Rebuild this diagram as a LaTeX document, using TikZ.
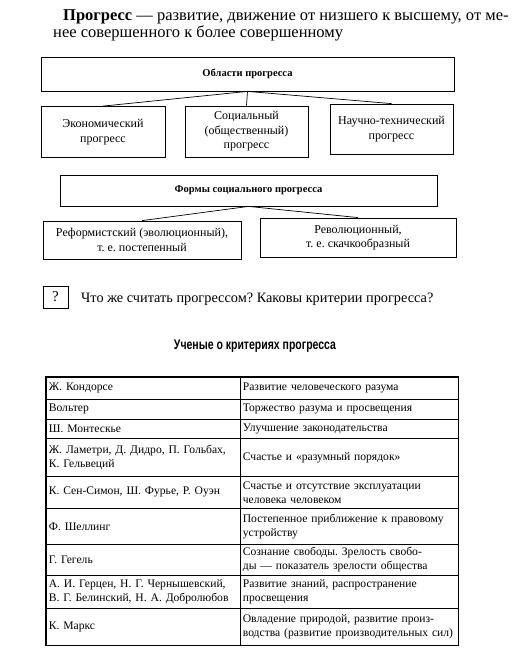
\documentclass[tikz,border=0pt]{standalone}
\usepackage{fontspec}
\setmainfont{Liberation Serif}
\newfontfamily\headfont[FakeStretch=0.75]{Liberation Sans}
\usetikzlibrary{positioning}
\frenchspacing
\tikzset{
  headbox/.style = {rectangle, draw, line width=0.8pt, inner sep=2pt,
                    font=\fontsize{10.5}{13}\selectfont\bfseries},
  kindbox/.style = {rectangle, draw, line width=0.8pt, inner sep=2pt, align=center,
                    font=\fontsize{12}{14.5}\selectfont},
  link/.style    = {line width=0.7pt},
  cell/.style    = {rectangle, draw, line width=0.7pt, anchor=north west, inner xsep=2.5pt,
                    inner ysep=0pt, align=left, font=\fontsize{11.6}{14}\selectfont},
  lcell/.style   = {cell, text width=189pt},
  rcell/.style   = {cell, text width=213pt},
}
\begin{document}
\begin{tikzpicture}[x=1pt, y=-1pt]
  \useasboundingbox (0,0) rectangle (525,653);

  % definition
  \node[anchor=base west, inner sep=0pt, font=\fontsize{16.5}{19}\selectfont] (def1) at (63,20)
    {\textbf{Прогресс} — развитие, движение от низшего к высшему, от ме-};
  \node[anchor=base west, inner sep=0pt, font=\fontsize{16.5}{19}\selectfont] (def2) at (53,37)
    {нее совершенного к более совершенному};

  % areas of progress
  \node[headbox, minimum width=413pt, minimum height=34pt] (areas) at (247.5,74) {Области прогресса};
  \node[kindbox, minimum width=124pt, minimum height=51pt] (econ) at (103,132)
    {Экономический\\прогресс};
  \node[kindbox, minimum width=123pt, minimum height=51pt] (soc) at (246.5,131.5)
    {Социальный\\(общественный)\\прогресс};
  \node[kindbox, minimum width=123pt, minimum height=50pt] (tech) at (391.5,129)
    {Научно-технический\\прогресс};
  \draw[link] (areas.south) -- (econ.north);
  \draw[link] (areas.south) -- (soc.north);
  \draw[link] (areas.south) -- (tech.north);

  % forms of social progress
  \node[headbox, minimum width=377pt, minimum height=31pt] (forms) at (248.5,190.5)
    {Формы социального прогресса};
  \node[kindbox, minimum width=198pt, minimum height=38pt] (reform) at (142,240)
    {Реформистский (эволюционный),\\т. е. постепенный};
  \node[kindbox, minimum width=196pt, minimum height=39pt] (revol) at (358,237.5)
    {Революционный,\\т. е. скачкообразный};
  \draw[link] (forms.south) -- (reform.north);
  \draw[link] (forms.south) -- (revol.north);

  % question
  \node[rectangle, draw, line width=0.8pt, minimum width=25pt, minimum height=22pt,
        font=\fontsize{15}{17}\selectfont] (qmark) at (55.5,297) {?};
  \node[anchor=base west, inner sep=0pt, font=\fontsize{14.3}{17}\selectfont] (qtext) at (81,302)
    {Что же считать прогрессом? Каковы критерии прогресса?};

  % scholars table
  \node[font=\headfont\fontsize{14}{17}\selectfont\bfseries] (thead) at (255,346)
    {Ученые о критериях прогресса};

  \node[lcell, minimum height=22pt] (n1) at (46,377) {Ж. Кондорсе};
  \node[rcell, minimum height=22pt] (c1) at (240,377) {Развитие человеческого разума};
  \node[lcell, minimum height=20pt] (n2) at (46,399) {Вольтер};
  \node[rcell, minimum height=20pt] (c2) at (240,399) {Торжество разума и просвещения};
  \node[lcell, minimum height=19pt] (n3) at (46,419) {Ш. Монтескье};
  \node[rcell, minimum height=19pt] (c3) at (240,419) {Улучшение законодательства};
  \node[lcell, minimum height=38pt] (n4) at (46,438) {Ж. Ламетри, Д. Дидро, П. Гольбах,\\К. Гельвеций};
  \node[rcell, minimum height=38pt] (c4) at (240,438) {Счастье и «разумный порядок»};
  \node[lcell, minimum height=32pt] (n5) at (46,476) {К. Сен-Симон, Ш. Фурье, Р. Оуэн};
  \node[rcell, minimum height=32pt] (c5) at (240,476) {Счастье и отсутствие эксплуатации\\человека человеком};
  \node[lcell, minimum height=36pt] (n6) at (46,508) {Ф. Шеллинг};
  \node[rcell, minimum height=36pt] (c6) at (240,508) {Постепенное приближение к правовому\\устройству};
  \node[lcell, minimum height=31pt] (n7) at (46,544) {Г. Гегель};
  \node[rcell, minimum height=31pt] (c7) at (240,544) {Сознание свободы. Зрелость свобо-\\ды — показатель зрелости общества};
  \node[lcell, minimum height=33pt] (n8) at (46,575) {\mbox{А. И. Герцен, Н. Г. Чернышевский,}\\\mbox{В. Г. Белинский, Н. А. Добролюбов}};
  \node[rcell, minimum height=33pt] (c8) at (240,575) {Развитие знаний, распространение\\просвещения};
  \node[lcell, minimum height=37pt] (n9) at (46,608) {К. Маркс};
  \node[rcell, minimum height=37pt] (c9) at (240,608) {Овладение природой, развитие произ-\\\mbox{водства (развитие производительных сил)}};
  \draw[line width=1.3pt] (n1.north west) rectangle (c9.south east);
\end{tikzpicture}
\end{document}
